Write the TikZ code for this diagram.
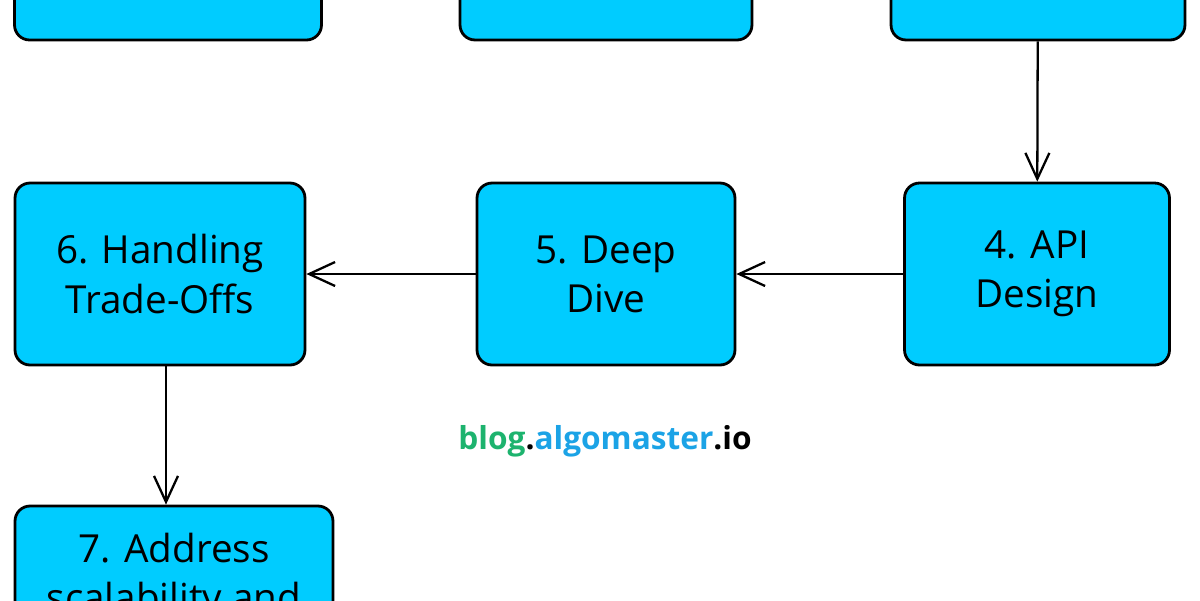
\documentclass[tikz,border=0pt]{standalone}
\usepackage{fontspec}
\setmainfont{Open Sans}
\usetikzlibrary{arrows.meta}
\definecolor{boxcyan}{HTML}{00CCFF}
\definecolor{bloggreen}{HTML}{1DB36E}
\definecolor{blogblue}{HTML}{1BA3E6}

\begin{document}
\begin{tikzpicture}[	x=0.02cm,y=-0.02cm,%
					every node/.style={draw,line width=1.6pt,fill=boxcyan,%
						rounded corners=0.3cm,minimum height=3.64cm,align=center,%
						font=\fontsize{22}{28}\selectfont},%
					flow/.style={-{Straight Barb[length=0.52cm,width=0.48cm]},line width=1.3pt}]
\useasboundingbox (0,0) rectangle (1200,600);
\clip (0,0) rectangle (1200,600);

% name/x/y/width/text
\foreach \a/\b/\c/\d/\e in {box1/168/-51/6.14/{},box2/606/-51/5.84/{},box3/1038/-51/5.88/{},%
	api/1037/274/5.3/{4. API\\Design},dive/606/274/5.16/{5. Deep\\Dive},%
	tradeoff/160/274/5.8/{6. Handling\\Trade-Offs},%
	scale/174/597/6.36/{7. Address\\scalability and\\\mbox{}}}
	\node [minimum width=\d cm] (\a) at (\b,\c) {\e};

\draw [flow] (box3) -- (api);
\draw [flow] (api) -- (dive);
\draw [flow] (dive) -- (tradeoff);
\draw [flow] ([xshift=0.12cm]tradeoff.south) -- ([xshift=0.12cm]tradeoff.south |- scale.north);

\tikzstyle{every node}=[ ]

\node [font=\bfseries\fontsize{18}{20}\selectfont] (blog) at (605,441)
	{\textcolor{bloggreen}{blog}.\textcolor{blogblue}{algomaster}.io};

\end{tikzpicture}
\end{document}
